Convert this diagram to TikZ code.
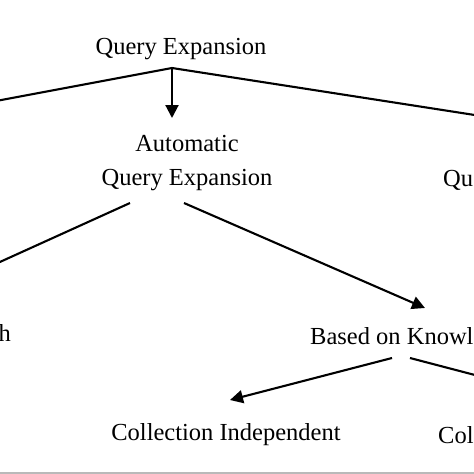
\documentclass[tikz,border=0pt]{standalone}
\usepackage{fontspec}
\setmainfont{Liberation Serif}
\usetikzlibrary{arrows.meta}
\begin{document}
\begin{tikzpicture}[x=1pt,y=-1pt,
  lbl/.style={inner sep=0pt,font=\fontsize{24.5}{34}\selectfont,align=center},
  conn/.style={line width=2.1pt},
  arr/.style={conn,-{Triangle[length=13pt,width=13pt]}}]
\useasboundingbox (0,0) rectangle (474,474);
\clip (0,0) rectangle (474,474);
\fill[gray!55] (0,471.5) rectangle (474,474);
% nodes
\node[lbl] (qe) at (181,49) {Query Expansion};
\node[lbl] (aqe) at (187,163) {Automatic\\Query Expansion};
\node[lbl,anchor=west] (rq) at (443,180) {Qu};
\node[lbl,anchor=east] (lh) at (11,333) {h};
\node[lbl,anchor=west] (bok) at (310,336) {Based on Knowl};
\node[lbl] (ci) at (226,435) {Collection Independent};
\node[lbl,anchor=west] (cd) at (438,435) {Col};
% connector anchor points
\coordinate (qs) at (172,68);
\coordinate (qL) at (-20,104);
\coordinate (qR) at (494,118);
\coordinate (aL) at (130,203);
\coordinate (aLe) at (-20,271);
\coordinate (aR) at (184,203);
\coordinate (bR) at (425,308);
\coordinate (bL) at (392,358);
\coordinate (bRs) at (410,358);
\coordinate (bRe) at (494,380);
\coordinate (ciT) at (230,400);
\coordinate (aqT) at (172,118);
% connectors
\draw[conn] (qs) -- (qL);
\draw[conn] (qs) -- (qR);
\draw[arr] (qs) -- (aqT);
\draw[conn] (aL) -- (aLe);
\draw[arr] (aR) -- (bR);
\draw[arr] (bL) -- (ciT);
\draw[conn] (bRs) -- (bRe);
\end{tikzpicture}
\end{document}
